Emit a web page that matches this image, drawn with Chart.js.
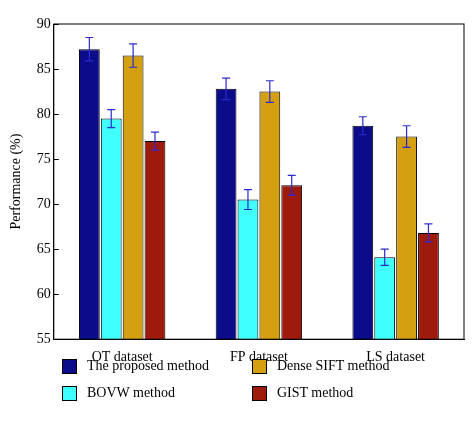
<!DOCTYPE html>
<html>
<head>
<meta charset="utf-8">
<script src="https://cdn.jsdelivr.net/npm/chart.js@4.4.0/dist/chart.umd.min.js"></script>
<style>
  body { margin: 0; background: #fff; font-family: "Liberation Serif", serif; }
  #wrap { width: 474px; height: 368px; }
  #legend { display: grid; grid-template-columns: 190px 190px; margin-left: 62px; row-gap: 11px; margin-top: -10px; font-size: 14px; }
  .item { display: flex; align-items: center; }
  .box { width: 13px; height: 13px; border: 1px solid #000; margin-right: 10px; }
</style>
</head>
<body>
<div id="wrap"><canvas id="myChart"></canvas></div>
<div id="legend"></div>
<script>
const categories = ['OT dataset', 'FP dataset', 'LS dataset']
const seriesNames = ['The proposed method', 'BOVW method', 'Dense SIFT method', 'GIST method']
const seriesColors = ['#0c0c8a', '#40ffff', '#d4a012', '#9e1a0c']
const proposed = [87.2, 82.8, 78.7]
const bovw = [79.5, 70.5, 64.1]
const denseSift = [86.5, 82.5, 77.5]
const gist = [77.0, 72.1, 66.8]
const errProposed = [1.3, 1.2, 1.0]
const errBovw = [1.0, 1.1, 0.9]
const errDenseSift = [1.3, 1.2, 1.2]
const errGist = [1.0, 1.1, 1.0]

const values = [proposed, bovw, denseSift, gist]
const errors = [errProposed, errBovw, errDenseSift, errGist]

// error bars drawn through the chart's own scales
const errorBars = {
    id: 'errorBars',
    afterDatasetsDraw(chart) {
        const c = chart.ctx
        const y = chart.scales.y
        c.save()
        c.strokeStyle = '#2a2ad0'
        c.lineWidth = 1.2
        chart.data.datasets.forEach((ds, i) => {
            chart.getDatasetMeta(i).data.forEach((bar, j) => {
                const top = y.getPixelForValue(ds.data[j] + errors[i][j])
                const bot = y.getPixelForValue(ds.data[j] - errors[i][j])
                c.beginPath()
                c.moveTo(bar.x, top); c.lineTo(bar.x, bot)
                c.moveTo(bar.x - 4, top); c.lineTo(bar.x + 4, top)
                c.moveTo(bar.x - 4, bot); c.lineTo(bar.x + 4, bot)
                c.stroke()
            })
        })
        c.restore()
    }
}

new Chart(document.getElementById('myChart'), {
    type: 'bar',
    data: {
        labels: categories,
        datasets: seriesNames.map((name, i) => ({
            label: name,
            data: values[i],
            backgroundColor: seriesColors[i],
            borderColor: '#000',
            borderWidth: 1,
            barPercentage: 0.95,
            categoryPercentage: 0.64
        }))
    },
    options: {
        responsive: true,
        maintainAspectRatio: false,
        animation: false,
        layout: { padding: { top: 24, right: 10, left: 4 } },
        plugins: { legend: { display: false }, tooltip: { enabled: false } },
        scales: {
            x: {
                grid: { display: false },
                border: { color: '#000' },
                ticks: { color: '#000', padding: 2, font: { family: 'Liberation Serif', size: 14 } }
            },
            y: {
                min: 55, max: 90,
                grid: { display: true, drawOnChartArea: false, tickLength: -5, color: '#000' },
                border: { color: '#000' },
                ticks: { stepSize: 5, color: '#000', padding: 8, font: { family: 'Liberation Serif', size: 14 } },
                title: { display: true, text: 'Performance (%)', color: '#000', font: { family: 'Liberation Serif', size: 14 } }
            }
        }
    },
    plugins: [errorBars, {
        id: 'frame',
        afterDraw(chart) {
            const a = chart.chartArea, c = chart.ctx
            c.save(); c.strokeStyle = '#000'; c.lineWidth = 1
            c.strokeRect(a.left, a.top, a.right - a.left, a.bottom - a.top)
            c.restore()
        }
    }]
})

const legend = document.getElementById('legend')
;[0, 2, 1, 3].forEach(i => {
    legend.innerHTML += '<div class="item"><span class="box" style="background:' + seriesColors[i] + '"></span>' + seriesNames[i] + '</div>'
})
</script>
</body>
</html>
